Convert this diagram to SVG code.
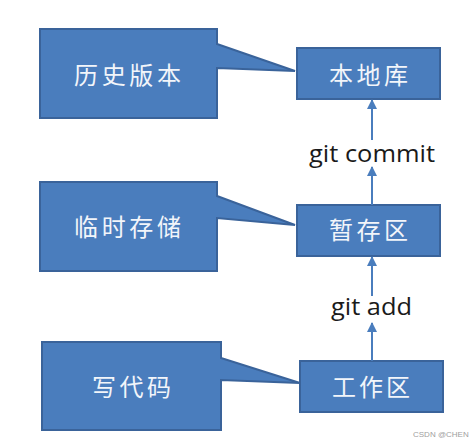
<svg xmlns="http://www.w3.org/2000/svg" width="474" height="444" viewBox="0 0 474 444">
  <style>
    .shape { fill: #4a7dbd; stroke: #3a639a; stroke-width: 2; stroke-linejoin: miter; }
    .cn { font-family: "Noto Sans CJK SC", "Noto Sans", sans-serif; font-size: 24px; fill: #f2f5fa; }
    .lbl { font-family: "Open Sans", "Liberation Sans", sans-serif; font-size: 23px; fill: #1a1a1a; }
    .conn { stroke: #4a7dbd; stroke-width: 2; fill: none; }
    .wm { font-family: "Liberation Sans", sans-serif; font-size: 8px; fill: #a0a0a0; }
  </style>
  <defs>
    <marker id="arr" viewBox="0 0 10 10" refX="9" refY="5" markerWidth="5" markerHeight="5" orient="auto" markerUnits="strokeWidth">
      <path d="M0,0 L10,5 L0,10 z" fill="#4a7dbd"/>
    </marker>
  </defs>
  <rect width="474" height="444" fill="#ffffff"/>

  <g id="node-history">
    <path class="shape" d="M40,29 H217 V44 L295,71 L217,68 V118 H40 Z"/>
    <text class="cn" x="74" y="84" textLength="107" lengthAdjust="spacing">历史版本</text>
  </g>
  <g id="node-local-repo">
    <rect class="shape" x="297" y="48" width="143" height="51"/>
    <text class="cn" x="329" y="84" textLength="79" lengthAdjust="spacing">本地库</text>
  </g>

  <g id="node-temp-storage">
    <path class="shape" d="M40,182 H217 V196 L295,225 L217,218 V271 H40 Z"/>
    <text class="cn" x="74" y="236" textLength="107" lengthAdjust="spacing">临时存储</text>
  </g>
  <g id="node-staging">
    <rect class="shape" x="297" y="205" width="143" height="51"/>
    <text class="cn" x="329" y="239" textLength="79" lengthAdjust="spacing">暂存区</text>
  </g>

  <g id="node-write-code">
    <path class="shape" d="M42,342 H221 V358 L300,383 L221,380 V430 H42 Z"/>
    <text class="cn" x="92" y="396" textLength="79" lengthAdjust="spacing">写代码</text>
  </g>
  <g id="node-workspace">
    <rect class="shape" x="300" y="361" width="143" height="51"/>
    <text class="cn" x="332" y="396" textLength="78" lengthAdjust="spacing">工作区</text>
  </g>

  <g id="connectors">
    <line class="conn" x1="372" y1="140" x2="372" y2="100" marker-end="url(#arr)"/>
    <line class="conn" x1="372" y1="205" x2="372" y2="167" marker-end="url(#arr)"/>
    <line class="conn" x1="372" y1="296" x2="372" y2="257" marker-end="url(#arr)"/>
    <line class="conn" x1="372" y1="361" x2="372" y2="323" marker-end="url(#arr)"/>
    <text class="lbl" x="309" y="162" textLength="126" lengthAdjust="spacingAndGlyphs">git commit</text>
    <text class="lbl" x="331" y="315" textLength="81" lengthAdjust="spacingAndGlyphs">git add</text>
  </g>

  <text class="wm" x="413" y="437">CSDN @CHEN</text>
</svg>
